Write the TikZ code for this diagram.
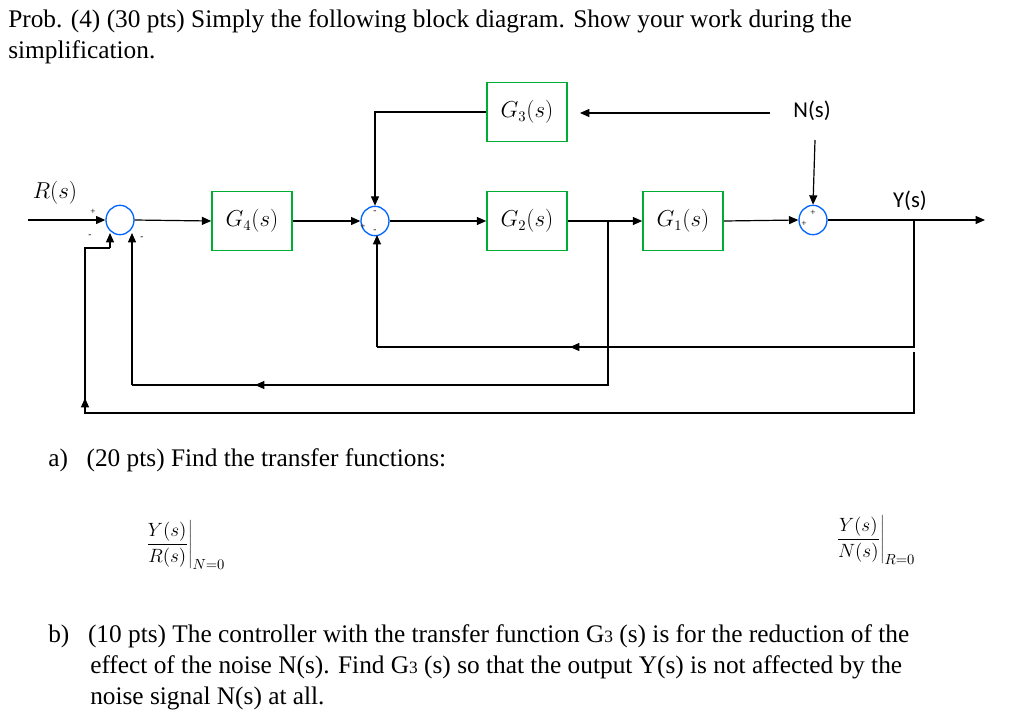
\documentclass[tikz,border=0pt]{standalone}
\usepackage{fontspec}
\setmainfont{Liberation Serif}
\newfontfamily\calfnt{Carlito}
\usetikzlibrary{arrows.meta,shapes.geometric}
\begin{document}
\begin{tikzpicture}[x=0.75pt,y=-0.75pt,
  blk/.style={draw=green!60!black!80!cyan, line width=1.2pt, minimum width=60pt, minimum height=44pt, inner sep=0pt, font=\fontsize{16}{18}\selectfont},
  sj/.style={draw=blue!60!cyan, line width=1pt, ellipse, minimum width=21pt, minimum height=22pt, inner sep=0pt},
  ln/.style={line width=0.9pt},
  ar/.style={ln,-{Triangle[length=7pt,width=6pt]}},
  sg/.style={font=\fontsize{7}{8}\selectfont, inner sep=0pt},
  txt/.style={font=\fontsize{19}{22}\selectfont, anchor=base west, inner sep=0pt},
  lbl/.style={font=\calfnt\fontsize{17}{19}\selectfont, inner sep=0pt}]
\useasboundingbox (0,0) rectangle (1024,715);
\node[txt] (t1) at (8,27) {Prob. (4) (30 pts) Simply the following block diagram. Show your work during the};
\node[txt] (t2) at (8,58) {simplification.};
% blocks
\node[blk] (G3) at (527,112) {$G_3(s)$};
\node[blk] (G4) at (252,221) {$G_4(s)$};
\node[blk] (G2) at (527,221) {$G_2(s)$};
\node[blk] (G1) at (683,221) {$G_1(s)$};
\node[sj] (S1) at (120,220) {};
\node[sj] (S2) at (375,221) {};
\node[sj] (S3) at (813,220) {};
% labels
\node[font=\fontsize{16}{18}\selectfont] (R) at (55,193) {$R(s)$};
\node[lbl] (N) at (812,111) {N(s)};
\node[lbl] (Y) at (910,201) {Y(s)};
% signs
\node[sg] at (93,212) {+}; \node[sg] at (90,236) {-}; \node[sg] at (142,238) {-};
\node[sg] at (363,227) {+}; \node[sg] at (375,212) {-}; \node[sg] at (375,231) {-};
\node[sg] at (813,213) {+}; \node[sg] at (804,224) {+};
% coordinates
\coordinate (in) at (28,220);
\coordinate (out) at (985,220);
\coordinate (ns) at (815,140);
\coordinate (nl) at (770,113);
\coordinate (g3t) at (580,113);
\coordinate (b1) at (608,220);
\coordinate (b2) at (914,220);
\coordinate (d1) at (608,385);
\coordinate (d2) at (132,385);
\coordinate (e1) at (914,347);
\coordinate (e2) at (377,347);
\coordinate (f0) at (914,352);
\coordinate (f1) at (914,413);
\coordinate (f2) at (85,413);
\coordinate (f3) at (85,248);
\coordinate (f4) at (110,248);
% main path
\draw[ar] (in) -- (S1.west);
\draw[ar] (S1.east) -- (G4.west);
\draw[ar] (G4.east) -- (S2.west);
\draw[ar] (S2.east) -- (G2.west);
\draw[ar] (G2.east) -- (G1.west);
\draw[ar] (G1.east) -- (S3.west);
\draw[ar] (S3.east) -- (out);
\draw[ar] (nl) -- (g3t);
\draw[ar] (ns) -- (S3.north);
\draw[ar] (G3.west) -| (S2.north);
% feedbacks
\draw[ln] (b1) -- (d1) -- (d2);
\draw[ar] (d1) -- (255,385);
\draw[ar] (d2) -- (132,233);
\draw[ln] (b2) -- (e1) -- (e2);
\draw[ar] (e1) -- (570,347);
\draw[ar] (e2) -- (377,235);
\draw[ln] (f0) -- (f1) -- (f2) -- (f3) -- (f4);
\draw[ar] (f2) -- (85,398);
\draw[ar] (f4) -- (110,233);
% text below
\node[txt] (a1) at (48,466) {a)\hspace{14pt}(20 pts) Find the transfer functions:};
\node[font=\fontsize{15}{17}\selectfont, inner sep=0pt] (fr1) at (185,545) {$\left.\displaystyle\frac{Y(s)}{R(s)}\right|_{N=0}$};
\node[font=\fontsize{15}{17}\selectfont, inner sep=0pt] (fr2) at (875,540) {$\left.\displaystyle\frac{Y(s)}{N(s)}\right|_{R=0}$};
\node[txt] (b1t) at (48,642) {b)\hspace{14pt}(10 pts) The controller with the transfer function G{\fontsize{13}{14}\selectfont 3} (s) is for the reduction of the};
\node[txt] (b2t) at (90,673) {effect of the noise N(s). Find G{\fontsize{13}{14}\selectfont 3} (s) so that the output Y(s) is not affected by the};
\node[txt] (b3t) at (90,704) {noise signal N(s) at all.};
\end{tikzpicture}
\end{document}
